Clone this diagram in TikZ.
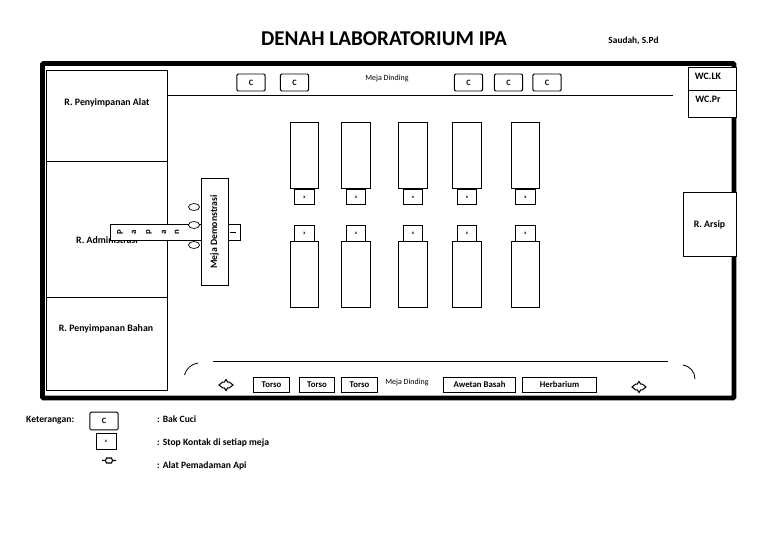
\documentclass[tikz,border=0pt]{standalone}
\usepackage{fontspec}
\setmainfont{Carlito}
\usetikzlibrary{shapes.geometric}
\tikzset{>=latex}
\tikzset{
  room/.style={draw, fill=white, line width=0.8, inner sep=0, outer sep=0},
  desk/.style={draw, fill=white, line width=0.8, inner sep=0, outer sep=0, minimum width=24.5, minimum height=56},
  socket/.style={draw, fill=white, line width=0.7, inner sep=0, outer sep=0, minimum width=16.5, minimum height=13, font=\fontsize{4}{5}\selectfont\bfseries},
  sink/.style={draw, rounded corners=1, line width=0.8, inner sep=0, outer sep=0, minimum width=24, minimum height=14.5, font=\fontsize{7}{8}\selectfont\bfseries},
  shelf/.style={draw, line width=0.8, inner sep=0, outer sep=0, minimum height=12.8, font=\fontsize{7.5}{9}\selectfont\bfseries},
  chair/.style={draw, ellipse, fill=white, line width=0.6, inner sep=0, outer sep=0, minimum width=9.5, minimum height=6},
  lbl/.style={inner sep=0, font=\fontsize{8.4}{10}\selectfont\bfseries},
  note/.style={inner sep=0, anchor=west, font=\fontsize{8.2}{10}\selectfont\bfseries},
  small/.style={inner sep=0, font=\fontsize{6.8}{8}\selectfont},
  extinguisher/.pic={
    \draw[fill=white, line width=0.9] (-7,0)--(-3.5,-2.8)--(-1.8,-2.8)--(0,-5.5)--(1.8,-2.8)--(3.5,-2.8)--(7,0)--(3.5,2.8)--(1.8,2.8)--(0,5.5)--(-1.8,2.8)--(-3.5,2.8)--cycle;
  },
  extinguisherkey/.pic={
    \draw[fill=white, line width=1] (-7,0)--(-3.5,0)--(-2.5,-2.5)--(2.5,-2.5)--(3.5,0)--(7,0)--(3.5,0)--(2.5,2.5)--(-2.5,2.5)--(-3.5,0)--cycle;
  }
}
\begin{document}
\begin{tikzpicture}[x=0.03cm, y=-0.03cm]

\useasboundingbox (0,0) rectangle (768,543);

\node[inner sep=0, font=\fontsize{18}{20}\selectfont\bfseries] (title) at (384,39) {DENAH LABORATORIUM IPA};
\node[lbl, font=\fontsize{8}{9}\selectfont\bfseries] (author) at (633.5,41) {Saudah, S.Pd};

% walls
\draw[line width=4.2, rounded corners=1] (42.5,63.5) rectangle (734,398);

% rooms
\draw[room] (46,70) rectangle (167,161);
\draw[room] (46,161) rectangle (167,297);
\draw[room] (46,297) rectangle (167,390);
\node[lbl] (alat) at (107,103) {R. Penyimpanan Alat};
\node[lbl] (admin) at (107,240) {R. Administrasi};
\node[lbl] (bahan) at (106,329) {R. Penyimpanan Bahan};

\draw[room] (688,67) rectangle (736,90);
\draw[room] (688,90) rectangle (736,117);
\draw[room] (683,192) rectangle (736,256);
\node[lbl] (wclk) at (708,76) {WC.LK};
\node[lbl] (wcpr) at (708,99) {WC.Pr};
\node[lbl] (arsip) at (709.5,225) {R. Arsip};

% wall tables
\draw[line width=0.8] (167,95)--(673,95);
\draw[line width=0.8] (213,361)--(668,361);
\node[small] (top) at (387,78) {Meja Dinding};
\node[small] (bottom) at (407,382.5) {Meja Dinding};

% sinks
\node[sink] (sink1) at (251,82.5) {C};
\node[sink] (sink2) at (294.5,82.5) {C};
\node[sink] (sink3) at (468.5,82.5) {C};
\node[sink] (sink4) at (508.5,82.5) {C};
\node[sink] (sink5) at (547,82.5) {C};

% desks
\foreach \i/\x in {1/304.5,2/356,3/413,4/467,5/525.5}{
  \node[desk] (upper\i) at (\x,155.5) {};
  \node[socket] (plugup\i) at (\x,197) {x};
  \node[socket] (pluglow\i) at (\x,233.5) {x};
  \node[desk, minimum height=57] (lower\i) at (\x,274.5) {};
}

% demonstration table
\node[room, minimum width=111, minimum height=14] (board) at (175,232.5) {};
\foreach \i/\x/\t in {1/120/P,2/134/a,3/149/p,4/164/a,5/177/n}{
  \node[inner sep=0, rotate=90, font=\fontsize{7.5}{9}\selectfont\bfseries] (letter\i) at (\x,232.5) {\t};
}
\draw[line width=0.8] (230,232)--(236,232);
\node[chair] (chair1) at (194,207) {};
\node[chair] (chair2) at (194,225) {};
\node[chair] (chair3) at (194,245) {};
\node[room, rotate=90, minimum width=92, minimum height=23, font=\fontsize{8.3}{10}\selectfont\bfseries] (demo) at (214.5,232) {Meja Demonstrasi};

% doors
\draw[line width=0.7] (184.5,375) .. controls (186,369) and (191,364) .. (198,363);
\draw[line width=0.7] (683,365) .. controls (690,366) and (695,372) .. (695,379);

% bottom shelves
\node[shelf, minimum width=30] (torso1) at (271.5,385) {Torso};
\node[shelf, minimum width=30.5] (torso2) at (317,385) {Torso};
\node[shelf, minimum width=30] (torso3) at (359.5,385) {Torso};
\node[shelf, minimum width=62] (awetan) at (479.5,384.5) {Awetan Basah};
\node[shelf, minimum width=63] (herbarium) at (559.5,384.5) {Herbarium};
\pic at (226,385) {extinguisher};
\pic at (639,387) {extinguisher};

% legend
\node[note] (ket) at (26,420) {Keterangan:};
\node[sink, minimum height=15] (keysink) at (104,421) {C};
\node[socket, minimum width=17, minimum height=13] (keysocket) at (106,441.5) {x};
\pic at (109,460.5) {extinguisherkey};
\node[note] (txt1) at (157,419.5) {: Bak Cuci};
\node[note] (txt2) at (157,442.5) {: Stop Kontak di setiap meja};
\node[note] (txt3) at (157,466) {: Alat Pemadaman Api};

\end{tikzpicture}
\end{document}
